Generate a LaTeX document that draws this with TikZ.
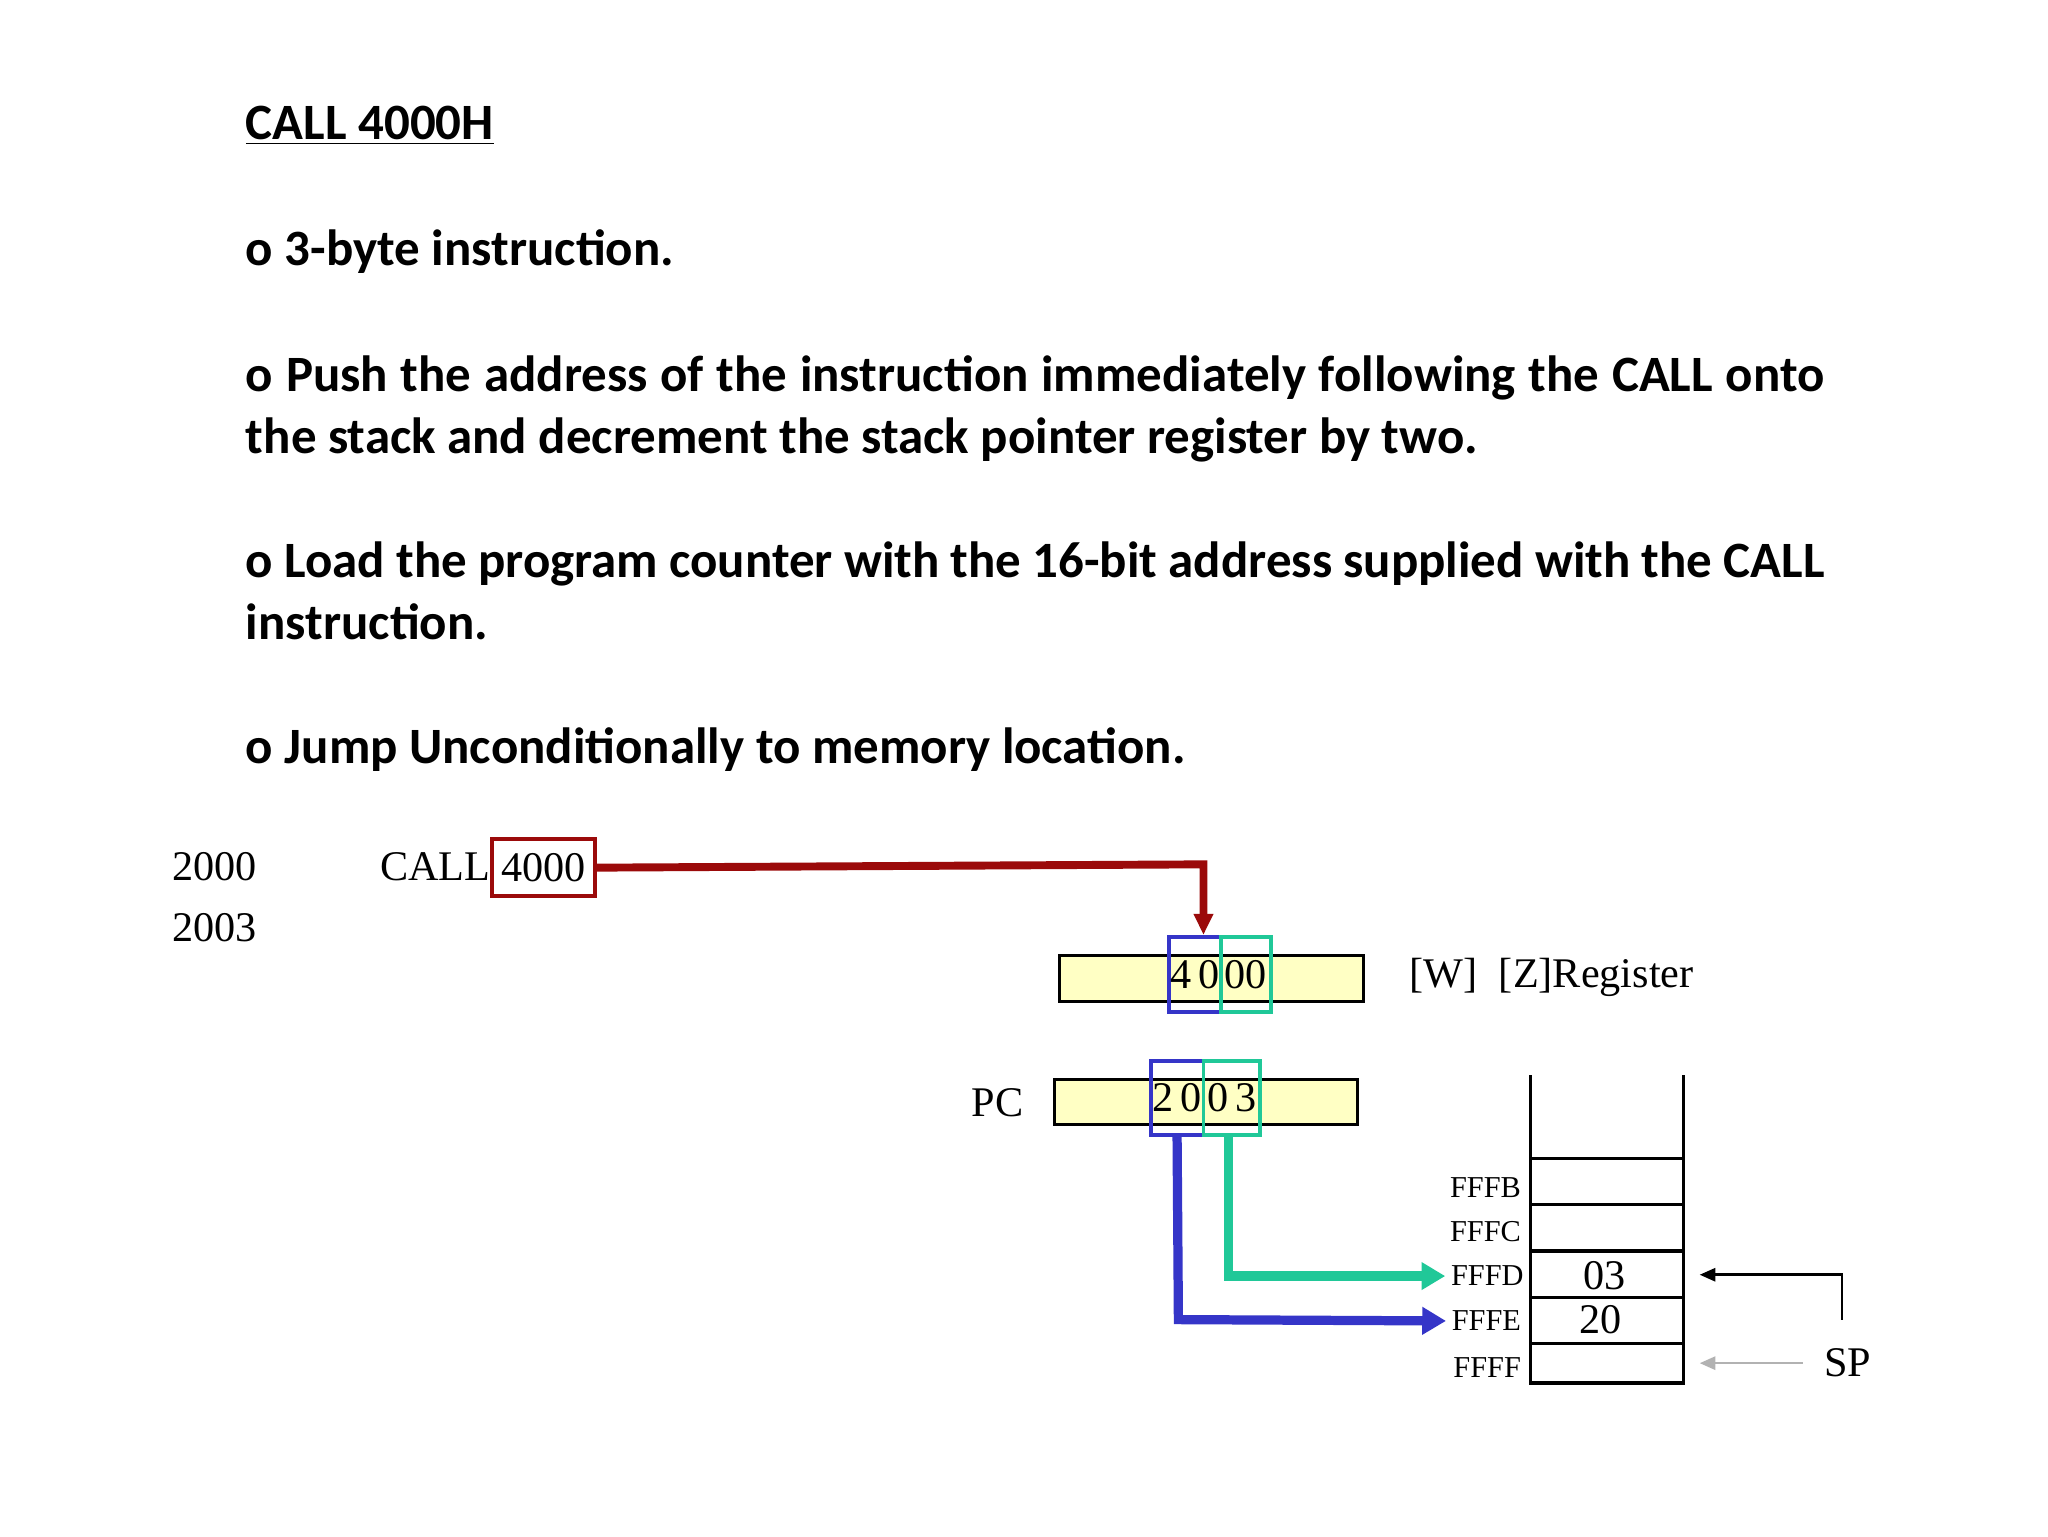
\documentclass[tikz,border=0pt]{standalone}
\usepackage{fontspec}
\setmainfont{Carlito}
\newfontfamily\tms{Liberation Serif}
\usetikzlibrary{arrows.meta}
\definecolor{dred}{HTML}{9B0A0A}
\definecolor{bblue}{HTML}{3535C8}
\definecolor{tteal}{HTML}{20C898}
\definecolor{ylw}{HTML}{FFFFC4}
\newcommand{\nohyph}{\hyphenpenalty=10000 \exhyphenpenalty=10000 }
\begin{document}
\begin{tikzpicture}[x=0.5pt,y=-0.5pt,
  para/.style={anchor=north west,text width=598pt,align=justify,inner sep=0pt,font=\fontsize{19.3}{23.5}\selectfont\bfseries},
  tm/.style={font=\tms\fontsize{16}{18}\selectfont,inner sep=0pt},
  sm/.style={font=\tms\fontsize{11.5}{13}\selectfont,inner sep=0pt,anchor=east},
  reg/.style={draw,line width=1.2pt,fill=ylw},
  box/.style={draw,line width=1.5pt}]
\useasboundingbox (0,0) rectangle (1552,1164);
\node[para] (h) at (186,80) {\underline{CALL 4000H}};
\node[para] (p1) at (186,174) {o 3-byte instruction.};
\node[para] (p2) at (186,269) {\nohyph o Push the address of the instruction immediately following the CALL onto the stack and decrement the stack pointer register by two.};
\node[para] (p3) at (186,410) {\nohyph o Load the program counter with the 16-bit address supplied with the CALL instruction.};
\node[para] (p4) at (186,551) {o Jump Unconditionally to memory location.};
% addresses
\node[tm,anchor=west] (a1) at (130,657) {2000};
\node[tm,anchor=west] (a2) at (130,703) {2003};
\node[tm,anchor=east] (call) at (372,657) {CALL};
\node[tm,draw=dred,line width=1.5pt,minimum width=39pt,minimum height=21.5pt] (c4) at (412,657.5) {4000};
% WZ register
\node[reg,minimum width=115pt,minimum height=17.5pt] (wz) at (918,741.5) {};
\node[box,draw=bblue,minimum width=19.5pt,minimum height=28.5pt,tm] (w) at (905.5,738.5) {4\,0};
\node[box,draw=tteal,minimum width=19pt,minimum height=28.5pt,tm] (z) at (944,738.5) {00};
\node[tm,anchor=west] (wzl) at (1068,741) {[W]\ \ [Z]Register};
% PC
\node[tm] (pcl) at (756,836) {PC};
\node[reg,minimum width=115pt,minimum height=17pt] (pc) at (914,835) {};
\node[box,draw=bblue,minimum width=20pt,minimum height=28pt,tm] (ph) at (892,832) {2\,0};
\node[box,draw=tteal,minimum width=21.5pt,minimum height=28pt,tm] (pl) at (933.5,832) {0\,3};
% stack
\draw[line width=1.2pt] (1160,815) -- (1160,1048) -- (1276,1048) -- (1276,815);
\foreach \yy in {878,913,948,983,1018} \draw[line width=1.2pt] (1160,\yy) -- (1276,\yy);
\node[sm] (sb) at (1153,900) {FFFB};
\node[sm] (sc) at (1153,933) {FFFC};
\node[sm] (sd) at (1155,967) {FFFD};
\node[sm] (se) at (1153,1001) {FFFE};
\node[sm] (sf) at (1153,1036) {FFFF};
\node[tm] (v1) at (1216,967) {03};
\node[tm] (v2) at (1213,1000) {20};
% arrows
\draw[dred,line width=3pt,-{Triangle[length=8pt,width=7pt]}] (c4.east) -- (912,655) -- (w.north -| 912,0);
\draw[tteal,line width=3.5pt,-{Triangle[length=9pt,width=10pt]}] (pl.south -| 931,0) -- (931,967) -- ([xshift=-2pt]sd.west);
\draw[bblue,line width=3.5pt,-{Triangle[length=9pt,width=10pt]}] (ph.south) -- (893,1000) -- ([xshift=-2pt]se.west);
\node[tm,anchor=west] (sp) at (1382,1033) {SP};
\coordinate (spt) at (1396,1000);
\draw[black,line width=1pt,-{Triangle[length=6pt,width=5pt]}] (spt) -- (1396,966) -- (1288,966);
\draw[gray!60,line width=1pt,-{Triangle[length=6pt,width=5pt]}] ([xshift=-8pt]sp.west) -- (1288,1033);
\end{tikzpicture}
\end{document}
